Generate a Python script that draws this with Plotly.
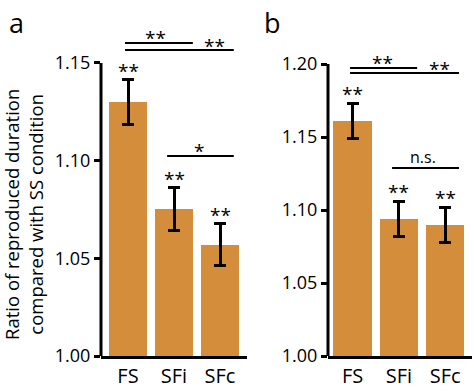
import plotly.graph_objects as go

# ---- data ----
categories = ["FS", "SFi", "SFc"]
a_values = [1.130, 1.075, 1.057]
a_errors = [0.0115, 0.011, 0.0107]
b_values = [1.161, 1.094, 1.090]
b_errors = [0.012, 0.012, 0.012]
a_ticks = [1.00, 1.05, 1.10, 1.15]
b_ticks = [1.00, 1.05, 1.10, 1.15, 1.20]
a_tick_text = ["1.00", "1.05", "1.10", "1.15"]
b_tick_text = ["1.00", "1.05", "1.10", "1.15", "1.20"]

W, H = 474, 391
BAR = "rgb(211,141,59)"
FONT = "Open Sans"

fig = go.Figure()

fig.add_trace(go.Bar(
    x=categories, y=[v - 1 for v in a_values], base=1, marker_color=BAR, width=0.83,
    error_y=dict(type="data", array=a_errors, color="black", thickness=3, width=6),
    xaxis="x", yaxis="y", showlegend=False, hoverinfo="skip"))
fig.add_trace(go.Bar(
    x=categories, y=[v - 1 for v in b_values], base=1, marker_color=BAR, width=0.83,
    error_y=dict(type="data", array=b_errors, color="black", thickness=3, width=6),
    xaxis="x2", yaxis="y2", showlegend=False, hoverinfo="skip"))

ybottom = (H - 356) / H

common_x = dict(type="category", showline=True, linecolor="black", linewidth=3,
                ticks="", showgrid=False, zeroline=False, automargin=False,
                tickfont=dict(family=FONT, size=20, color="black"))
common_y = dict(showline=False, ticks="outside", ticklen=6, tickwidth=3, tickcolor="black",
                showgrid=False, zeroline=False, automargin=False,
                tickfont=dict(family=FONT, size=18, color="black"))

fig.update_layout(
    template="none",
    width=W, height=H, margin=dict(l=0, r=0, t=0, b=0, pad=0), autosize=False,
    paper_bgcolor="white", plot_bgcolor="white",
    bargap=0,
    xaxis=dict(domain=[101 / W, 247 / W], range=[-0.587, 2.587], anchor="y", **common_x),
    yaxis=dict(domain=[ybottom, 1.0], range=[1.0, 1 + 356 / 1954], anchor="x",
               tickvals=a_ticks, ticktext=a_tick_text, **common_y),
    xaxis2=dict(domain=[328 / W, 472 / W], range=[-0.53, 2.58], anchor="y2", **common_x),
    yaxis2=dict(domain=[ybottom, 1.0], range=[1.0, 1 + 356 / 1460], anchor="x2",
                tickvals=b_ticks, ticktext=b_tick_text, **common_y),
)

shapes = []
annotations = []

def vline_axis(xref, yref, ytop):
    shapes.append(dict(type="line", xref=xref + " domain", yref=yref, x0=0, x1=0,
                       y0=1.0, y1=ytop, line=dict(color="black", width=3)))

vline_axis("x", "y", 1.15)
vline_axis("x2", "y2", 1.20)

def hline(xref, yref, x0, x1, y):
    shapes.append(dict(type="line", xref=xref, yref=yref, x0=x0, x1=x1, y0=y, y1=y,
                       line=dict(color="black", width=2)))

def text(xref, yref, x, y, s, size=19):
    annotations.append(dict(xref=xref, yref=yref, x=x, y=y, text=s, showarrow=False,
                            font=dict(family=FONT, size=size, color="black"),
                            xanchor="center", yanchor="middle"))

# panel a brackets
hline("x", "y", -0.065, 1.41, 1.1602)
hline("x", "y", -0.065, 2.30, 1.1566)
hline("x", "y", 0.85, 2.30, 1.1024)
text("x", "y", 0.59, 1.1625, "**")
text("x", "y", 1.89, 1.1589, "**")
text("x", "y", 1.54, 1.1047, "*")
# panel a bar stars
for i, (v, e) in enumerate(zip(a_values, a_errors)):
    annotations.append(dict(xref="x", yref="y", x=categories[i], y=v + e, text="**",
                            showarrow=False, yshift=9,
                            font=dict(family=FONT, size=19, color="black"),
                            xanchor="center", yanchor="middle"))

# panel b brackets
hline("x2", "y2", -0.054, 1.395, 1.1973)
hline("x2", "y2", -0.054, 2.30, 1.1938)
hline("x2", "y2", 0.854, 2.30, 1.1288)
text("x2", "y2", 0.64, 1.2005, "**")
text("x2", "y2", 1.87, 1.1968, "**")
text("x2", "y2", 1.52, 1.1365, "n.s.", size=16)
for i, (v, e) in enumerate(zip(b_values, b_errors)):
    annotations.append(dict(xref="x2", yref="y2", x=categories[i], y=v + e, text="**",
                            showarrow=False, yshift=9,
                            font=dict(family=FONT, size=19, color="black"),
                            xanchor="center", yanchor="middle"))

# panel letters
annotations.append(dict(xref="paper", yref="paper", x=7 / W, y=1 - 2 / H, text="a",
                        showarrow=False, xanchor="left", yanchor="top",
                        font=dict(family=FONT, size=27, color="black")))
annotations.append(dict(xref="paper", yref="paper", x=262 / W, y=1 - 2 / H, text="b",
                        showarrow=False, xanchor="left", yanchor="top",
                        font=dict(family=FONT, size=27, color="black")))

# y title
annotations.append(dict(xref="paper", yref="paper", x=23 / W, y=1 - 215 / H,
                        text="Ratio of reproduced duration<br>compared with SS condition",
                        textangle=-90, showarrow=False, xanchor="center", yanchor="middle",
                        font=dict(family=FONT, size=18.5, color="black")))

fig.update_layout(shapes=shapes, annotations=annotations)
fig.write_html("out.html", config={"displayModeBar": False},
               post_script="document.body.style.margin='0';")
